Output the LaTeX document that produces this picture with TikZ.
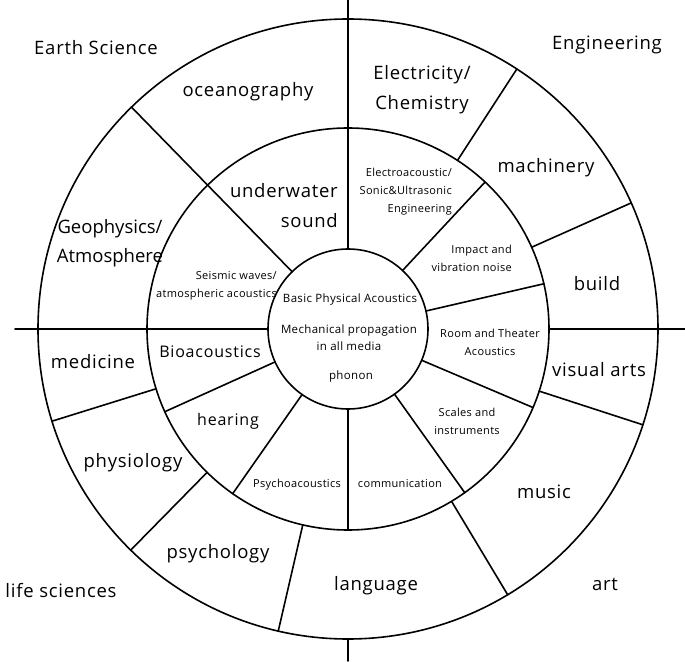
\documentclass[tikz,border=0pt]{standalone}
\usepackage{fontspec}
\setmainfont{Open Sans}
\usepackage{tikz}
\usetikzlibrary{positioning}
\tikzset{
  every picture/.append style={line cap=round,line join=round},
  wheel line/.style={line width=1.6pt},
  wheel big/.style={font=\fontsize{18.5}{30}\selectfont\addfontfeature{LetterSpace=4},inner sep=0pt},
  wheel tight/.style={font=\fontsize{18.5}{29}\selectfont,inner sep=0pt},
  wheel mid/.style={font=\fontsize{16}{18}\selectfont\addfontfeature{LetterSpace=5},inner sep=0pt},
  wheel small/.style={font=\fontsize{11}{18}\selectfont\addfontfeature{LetterSpace=3},inner sep=0pt},
  wheel core/.style={font=\fontsize{11.5}{17}\selectfont\addfontfeature{LetterSpace=3},inner sep=0pt}
}

\begin{document}
\begin{tikzpicture}[x=1pt,y=1pt]
  \useasboundingbox (-348,-332) rectangle (337,329);
  % rings
  \draw[wheel line] (0,0) circle[radius=310];
  \draw[wheel line] (0,0) circle[radius=201];
  \draw[wheel line] (0,0) circle[radius=80];
  % axes
  \draw[wheel line] (0,329) -- (90:80);
  \draw[wheel line] (270:80) -- (270:201);
  \draw[wheel line] (270:310) -- (0,-332);
  \draw[wheel line] (-333,0) -- (180:80);
  \draw[wheel line] (0:201) -- (337,0);
  % dividers
  \foreach \a in {57,24,-18,-59,-103,-134.5,-162.7}
    \draw[wheel line] (\a:201) -- (\a:310);
  \foreach \a in {47,13,-23,-54.5,-125,-155.7}
    \draw[wheel line] (\a:80) -- (\a:201);
  \draw[wheel line] (134.3:80) -- (134.3:310);

  % fields
  \node[wheel big,anchor=base] (earth) at (-252,274) {Earth Science};
  \node[wheel big,anchor=base] (engin) at (259,279) {Engineering};
  \node[wheel big,anchor=base] (life) at (-287,-268) {life sciences};
  \node[wheel big,anchor=base] (art) at (257,-261) {art};

  % outer ring
  \node[wheel big,anchor=base] (ocean) at (-100,232) {oceanography};
  \node[wheel big,align=center] (elec) at (74,239) {Electricity/\\Chemistry};
  \node[wheel big,anchor=base] (mach) at (198,156) {machinery};
  \node[wheel big,anchor=base] (build) at (249,38) {build};
  \node[wheel big,anchor=base] (visual) at (251,-48) {visual arts};
  \node[wheel big,anchor=base] (music) at (196,-169) {music};
  \node[wheel big,anchor=base] (lang) at (28,-261) {language};
  \node[wheel big,anchor=base] (psych) at (-130,-229) {psychology};
  \node[wheel big,anchor=base] (phys) at (-215,-138) {physiology};
  \node[wheel big,anchor=base] (med) at (-255,-39) {medicine};
  \node[wheel tight,align=center] (geo) at (-238,86) {Geophysics/\\Atmosphere};

  % middle ring
  \node[wheel big,align=right,anchor=east] (under) at (-10,123) {underwater\\sound};
  \node[wheel small,align=right,anchor=east] (seis) at (-71,43) {Seismic waves/\\atmospheric acoustics};
  \node[wheel small,align=right,anchor=east] (eacou) at (104,137) {Electroacoustic/\\Sonic\&Ultrasonic\\Engineering};
  \node[wheel small,align=right,anchor=east] (impact) at (164,71) {Impact and\\vibration noise};
  \node[wheel small,align=center] (room) at (142,-13) {Room and Theater\\Acoustics};
  \node[wheel small,align=center] (scale) at (119,-92) {Scales and\\instruments};
  \node[wheel small,anchor=base] (comm) at (52,-158) {communication};
  \node[wheel small,anchor=base] (psyac) at (-51,-158) {Psychoacoustics};
  \node[wheel mid,anchor=base] (hear) at (-120,-96) {hearing};
  \node[wheel mid,anchor=base] (bio) at (-138,-29) {Bioacoustics};

  % core
  \node[wheel core,anchor=base] (basic) at (2,26) {Basic Physical Acoustics};
  \node[wheel core,align=center] (mech) at (1,-9) {Mechanical propagation\\in all media};
  \node[wheel core,anchor=base] (phonon) at (3,-50) {phonon};
\end{tikzpicture}
\end{document}
